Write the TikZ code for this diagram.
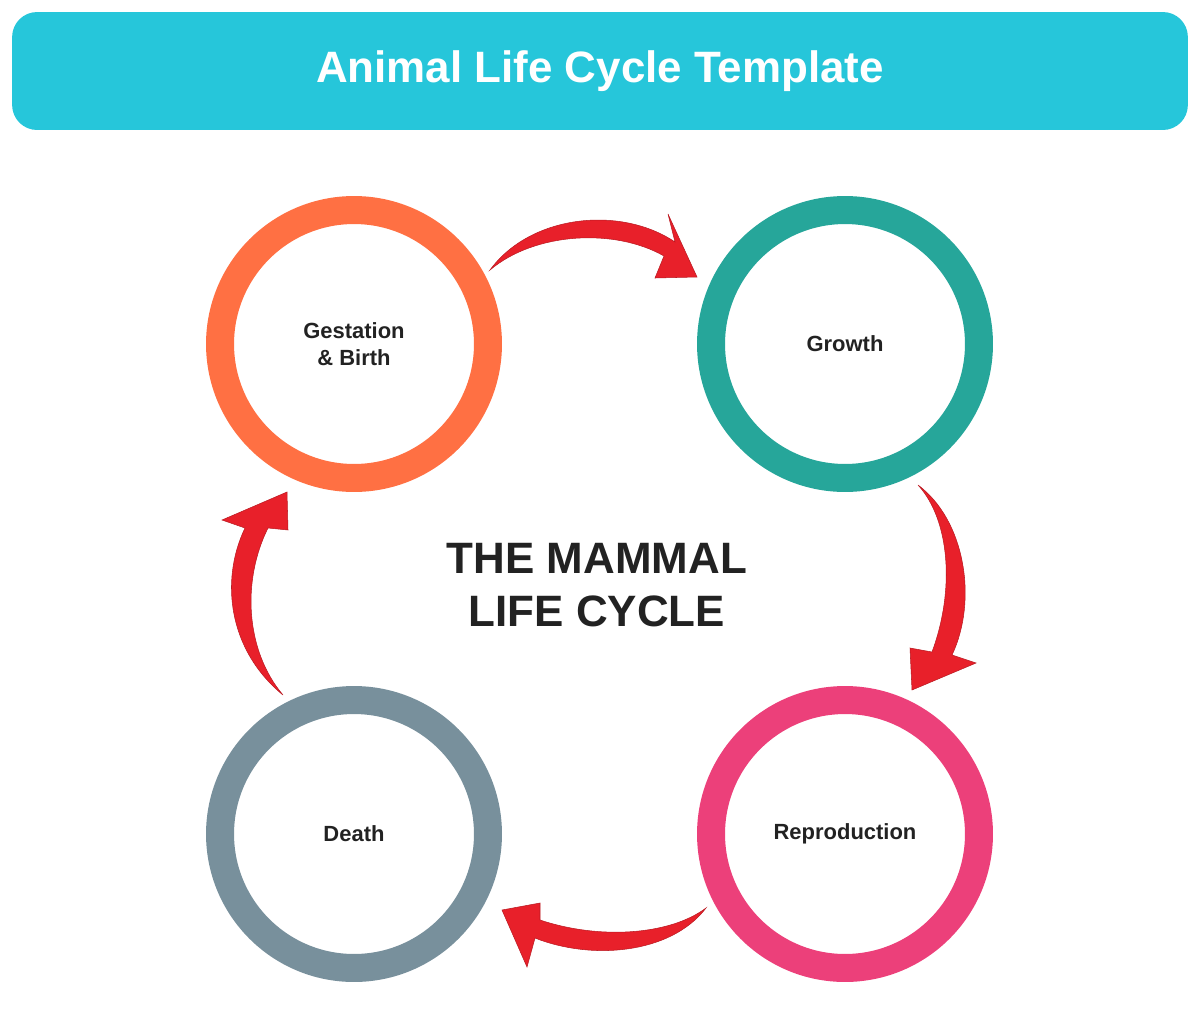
\documentclass[tikz,border=0pt]{standalone}
\usepackage{fontspec}
\setmainfont{Liberation Sans}
\definecolor{titlecyan}{HTML}{26C6DA}
\definecolor{ringorange}{HTML}{FF7043}
\definecolor{ringteal}{HTML}{26A69A}
\definecolor{ringpink}{HTML}{EC407A}
\definecolor{ringgrey}{HTML}{78909C}
\definecolor{arrowred}{HTML}{E8202A}
\definecolor{textdark}{HTML}{222222}
\tikzset{
  stage/.style={circle, minimum size=5.36cm, line width=0.56cm, fill=white, align=center,
    font=\fontsize{12.5}{15}\selectfont\bfseries, text=textdark},
  cyclearrow/.style={fill=arrowred, draw=arrowred!80!black, line width=0.3pt}
}
\begin{document}
\begin{tikzpicture}[x=0.02cm, y=-0.02cm]
  \useasboundingbox (0,0) rectangle (1200,1035);
  % title bar
  \node[fill=titlecyan, rounded corners=0.5cm, minimum width=23.52cm, minimum height=2.36cm,
    text=white, font=\fontsize{25}{30}\selectfont\bfseries] (title) at (600,71) {Animal Life Cycle Template};
  % stages
  \node[stage, draw=ringorange] (birth) at (354,344) {Gestation\\\& Birth};
  \node[stage, draw=ringteal] (growth) at (845,344) {Growth};
  \node[stage, draw=ringpink] (repro) at (845,834) {Reproduction};
  \node[stage, draw=ringgrey] (death) at (354,834) {Death};
  \node[font=\fontsize{25}{30}\selectfont\bfseries, text=textdark, align=center] (centre) at (597,585) {THE MAMMAL\\LIFE CYCLE};
  % arrows
  \fill[cyclearrow] (490,270) .. controls (530,215) and (620,205) .. (675,242)
    -- (668,214) -- (697,277) -- (655,278) -- (664,256)
    .. controls (615,228) and (535,232) .. (490,270) -- cycle;
  \fill[cyclearrow] (918,485) .. controls (965,520) and (978,600) .. (952,655)
    -- (976,663) -- (912,690) -- (910,648) -- (932,652)
    .. controls (955,590) and (950,520) .. (918,485) -- cycle;
  \fill[cyclearrow] (706,908) .. controls (670,955) and (590,960) .. (535,938)
    -- (527,967) -- (502,910) -- (540,903) -- (540,920)
    .. controls (600,940) and (670,935) .. (706,908) -- cycle;
  \fill[cyclearrow] (283,695) .. controls (228,650) and (220,580) .. (245,528)
    -- (222,520) -- (287,492) -- (288,530) -- (268,528)
    .. controls (242,580) and (245,650) .. (283,695) -- cycle;
\end{tikzpicture}
\end{document}
